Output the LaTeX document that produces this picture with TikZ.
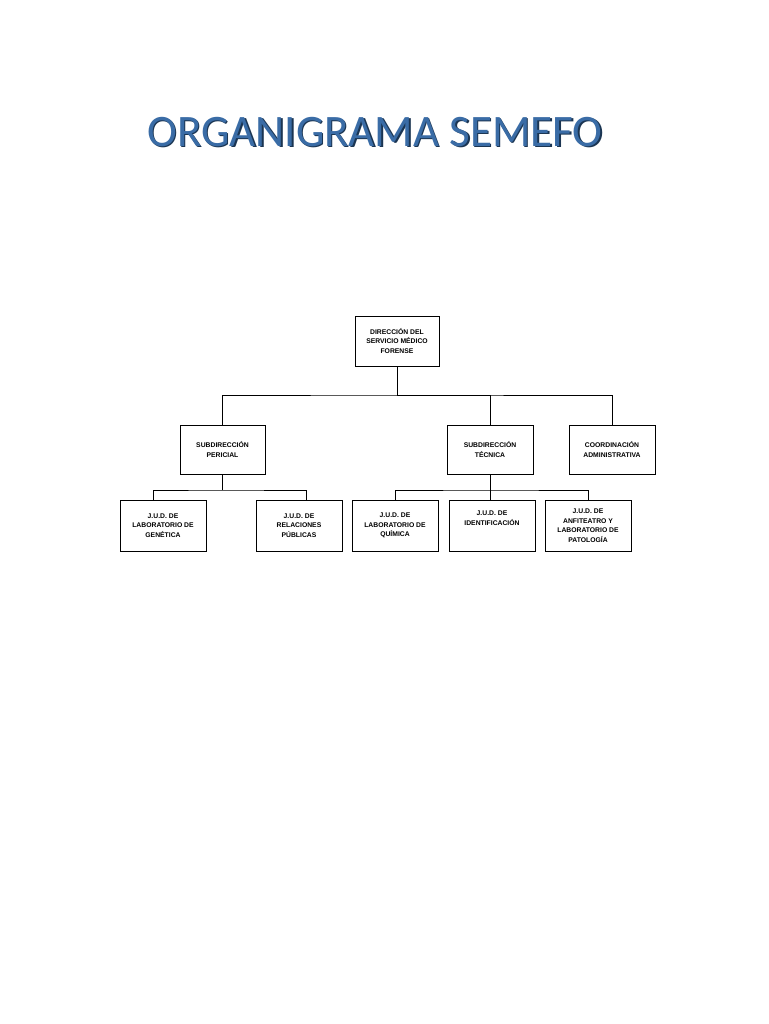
\documentclass[tikz,border=0pt]{standalone}
\usepackage{fontspec}
\setmainfont{Liberation Sans}
\newfontfamily\titlefont{Carlito}
\definecolor{tblue}{HTML}{3A6CA6}
\definecolor{tdark}{HTML}{1B3552}
\begin{document}
\begin{tikzpicture}[x=1pt,y=-1pt,
  box/.style={draw,line width=0.9pt,fill=white,font=\fontsize{6.8}{9.5}\selectfont\bfseries,align=center,inner sep=0pt},
  con/.style={line width=0.8pt}]
\useasboundingbox[fill=white] (0,0) rectangle (768,1024);
\node[font=\titlefont\fontsize{45}{54}\selectfont,text=tdark] at (376.5,133.5) {ORGANIGRAMA SEMEFO};
\node[font=\titlefont\fontsize{45}{54}\selectfont,text=tblue] (title) at (375,132) {ORGANIGRAMA SEMEFO};
\node[box,minimum width=84,minimum height=50] (dir) at (397,341) {DIRECCIÓN DEL\\SERVICIO MÉDICO\\FORENSE};
\node[box,minimum width=85,minimum height=49] (sp) at (222.5,449.5) {SUBDIRECCIÓN\\PERICIAL};
\node[box,minimum width=86,minimum height=49] (st) at (490,449.5) {SUBDIRECCIÓN\\TÉCNICA};
\node[box,minimum width=86,minimum height=49] (ca) at (612,449.5) {COORDINACIÓN\\ADMINISTRATIVA};
\node[box,minimum width=86,minimum height=51] (gen) at (163,525.5) {J.U.D. DE\\LABORATORIO DE\\GENÉTICA};
\node[box,minimum width=86,minimum height=51] (rel) at (299,525.5) {J.U.D. DE\\RELACIONES\\PÚBLICAS};
\node[box,minimum width=86,minimum height=51] (qui) at (395,525.5) {J.U.D. DE\\LABORATORIO DE\\QUÍMICA};
\node[box,minimum width=86,minimum height=51] (ide) at (492,525.5) {J.U.D. DE\\IDENTIFICACIÓN\\[5pt]};
\node[box,minimum width=86,minimum height=51] (pat) at (588,525.5) {J.U.D. DE\\ANFITEATRO Y\\LABORATORIO DE\\PATOLOGÍA};
\coordinate (b1) at (397,395);
\draw[con] (dir.south) -- (b1);
\draw[con] (sp.north) |- (b1) -| (ca.north);
\draw[con] (b1) -| (st.north);
\coordinate (b2) at (222.5,490);
\draw[con] (sp.south) -- (b2);
\draw[con] (gen.north -| 153,0) |- (b2) -| (rel.north -| 306,0);
\coordinate (b3) at (490,490);
\draw[con] (st.south) -- (b3);
\draw[con] (qui.north) |- (b3) -| (pat.north);
\draw[con] (b3) -- (b3 |- ide.north);
\end{tikzpicture}
\end{document}
